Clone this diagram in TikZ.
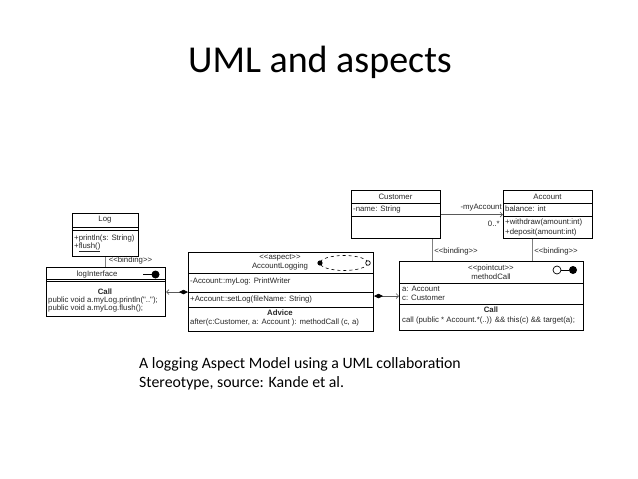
\documentclass[tikz,border=0pt]{standalone}
\usepackage{fontspec}
\setmainfont{Carlito}
\newfontfamily\umlfont{Liberation Sans}
\usetikzlibrary{arrows.meta}
\newcommand\stereo[1]{<\kern0pt<#1>\kern0pt>}

\begin{document}
\begin{tikzpicture}[
  x=1pt, y=-1pt,
  umlbox/.style={
    draw, line width=1.1pt, inner sep=0, anchor=north west,
  },
  sepline/.style={line width=0.8pt},
  txt/.style={
    font=\umlfont\fontsize{7.8}{9.3}\selectfont, inner sep=0, text=black!85
  },
  lefttxt/.style={txt, anchor=mid west},
  bind/.style={draw=gray, line width=0.5pt},
  assoc/.style={
    draw=gray!70!black, line width=0.6pt,
    -{Straight Barb[length=2.5pt,width=5pt]}
  },
  comp/.style={
    draw=gray!70!black, line width=0.6pt,
    {Diamond[black,length=9pt,width=4.5pt]}-{Straight Barb[length=2.5pt,width=5pt]}
  }
  ]
  \useasboundingbox (0,0) rectangle (638,479);

  \node[font=\fontsize{38}{46}\selectfont, anchor=base] (title) at (320,72) {UML and aspects};

  % Log
  \node[umlbox, minimum width=66, minimum height=43] (log) at (72,213) {};
  \draw[sepline] (72,227) -- (138,227) (72,230) -- (138,230);
  \node[txt] (logname) at (105,220) {Log};
  \node[lefttxt] (logop1) at (74,238) {+println(s: String)};
  \node[lefttxt] (logop2) at (74,246) {+\underline{flush()}};

  % logInterface
  \node[umlbox, minimum width=119, minimum height=49] (logint) at (46,267) {};
  \draw[sepline] (46,279) -- (165,279) (46,281.5) -- (165,281.5);
  \node[txt] (logintname) at (97,274.5) {logInterface};
  \draw[line width=1pt] (143,274.5) -- (152,274.5);
  \fill (155.5,274.5) circle[radius=4];
  \node[txt, font=\umlfont\bfseries\fontsize{7.8}{9.3}\selectfont] (logintcall) at (105,292) {Call};
  \node[lefttxt] (logintln1) at (48,300) {public void a.myLog.println("..");};
  \node[lefttxt] (logintln2) at (48,308) {public void a.myLog.flush();};

  % AccountLogging
  \node[umlbox, minimum width=185, minimum height=79] (acclog) at (188,252) {};
  \draw[sepline] (188,273) -- (373,273) (188,292) -- (373,292) (188,307) -- (373,307);
  \node[txt] (acclogstereo) at (280,257.5) {\stereo{aspect}};
  \node[txt] (acclogname) at (280,266.5) {AccountLogging};
  \draw[dashed, line width=0.6pt] (344,263) ellipse[x radius=24, y radius=7.5];
  \fill (320,263) circle[radius=2.6];
  \draw[fill=white, line width=0.7pt] (368,263) circle[radius=2.3];
  \node[lefttxt] (acclogattr) at (190,281) {-Account::myLog: PrintWriter};
  \node[lefttxt] (acclogop) at (190,299.5) {+Account::setLog(fileName: String)};
  \node[txt, font=\umlfont\bfseries\fontsize{7.8}{9.3}\selectfont] (acclogadvice) at (280,313) {Advice};
  \node[lefttxt] (acclogafter) at (190,322) {after(c:Customer, a: Account ): methodCall (c, a)};

  % Customer
  \node[umlbox, minimum width=89, minimum height=48] (cust) at (351,190) {};
  \draw[sepline] (351,203.5) -- (440,203.5) (351,216) -- (440,216);
  \node[txt] (custname) at (395.5,197) {Customer};
  \node[lefttxt] (custattr) at (353,209.5) {-name: String};

  % Account
  \node[umlbox, minimum width=89, minimum height=48] (acct) at (503,190) {};
  \draw[sepline] (503,203.5) -- (592,203.5) (503,216) -- (592,216);
  \node[txt] (acctname) at (547.5,197) {Account};
  \node[lefttxt] (acctattr) at (505,209.5) {balance: int};
  \node[lefttxt] (acctop1) at (505,222.5) {+withdraw(amount:int)};
  \node[lefttxt] (acctop2) at (505,232) {+deposit(amount:int)};

  % methodCall
  \node[umlbox, minimum width=184, minimum height=69] (mcall) at (399,261) {};
  \draw[sepline] (399,283) -- (583,283) (399,304) -- (583,304);
  \node[txt] (mcallstereo) at (491,268.5) {\stereo{pointcut}};
  \node[txt] (mcallname) at (491,277) {methodCall};
  \draw[line width=1pt] (561,270) -- (569,270);
  \draw[line width=0.7pt] (557,270) circle[radius=4];
  \fill (573,270) circle[radius=4];
  \node[lefttxt] (mcallattr1) at (402,289) {a: Account};
  \node[lefttxt] (mcallattr2) at (402,298.5) {c: Customer};
  \node[txt, font=\umlfont\bfseries\fontsize{7.8}{9.3}\selectfont] (mcallcall) at (491,310) {Call};
  \node[lefttxt] (mcallexpr) at (402,320) {call (public * Account.*(..)) \&\& this(c) \&\& target(a);};

  % connectors
  \draw[bind] (log.south) -- (log.south |- logint.north)
    node[txt, pos=0.35, anchor=west, xshift=3pt] (bindlog) {\stereo{binding}};
  \draw[bind] ([xshift=-9pt]cust.south east) -- ([xshift=-9pt]cust.south east |- mcall.north)
    node[txt, pos=0.55, anchor=west, xshift=2pt] (bindcust) {\stereo{binding}};
  \draw[bind] ([xshift=-61pt]acct.south east) -- ([xshift=-61pt]acct.south east |- mcall.north)
    node[txt, pos=0.55, anchor=west, xshift=2pt] (bindacct) {\stereo{binding}};
  \draw[assoc] (cust.east) -- (acct.west)
    node[txt, pos=1, anchor=south east, xshift=-1pt, yshift=3pt] (myacc) {-myAccount}
    node[txt, pos=1, anchor=north east, xshift=-3pt, yshift=-6pt] (mult) {0..*};
  \draw[comp] (acclog.west) -- (logint.east);
  \draw[comp] (acclog.east |- mcall.west) -- (mcall.west);

  \node[font=\fontsize{15.8}{19}\selectfont, anchor=north west, align=left, inner sep=0] (caption)
    at (139,357) {A logging Aspect Model using a UML collaboration\\Stereotype, source: Kande et al.};
\end{tikzpicture}
\end{document}
